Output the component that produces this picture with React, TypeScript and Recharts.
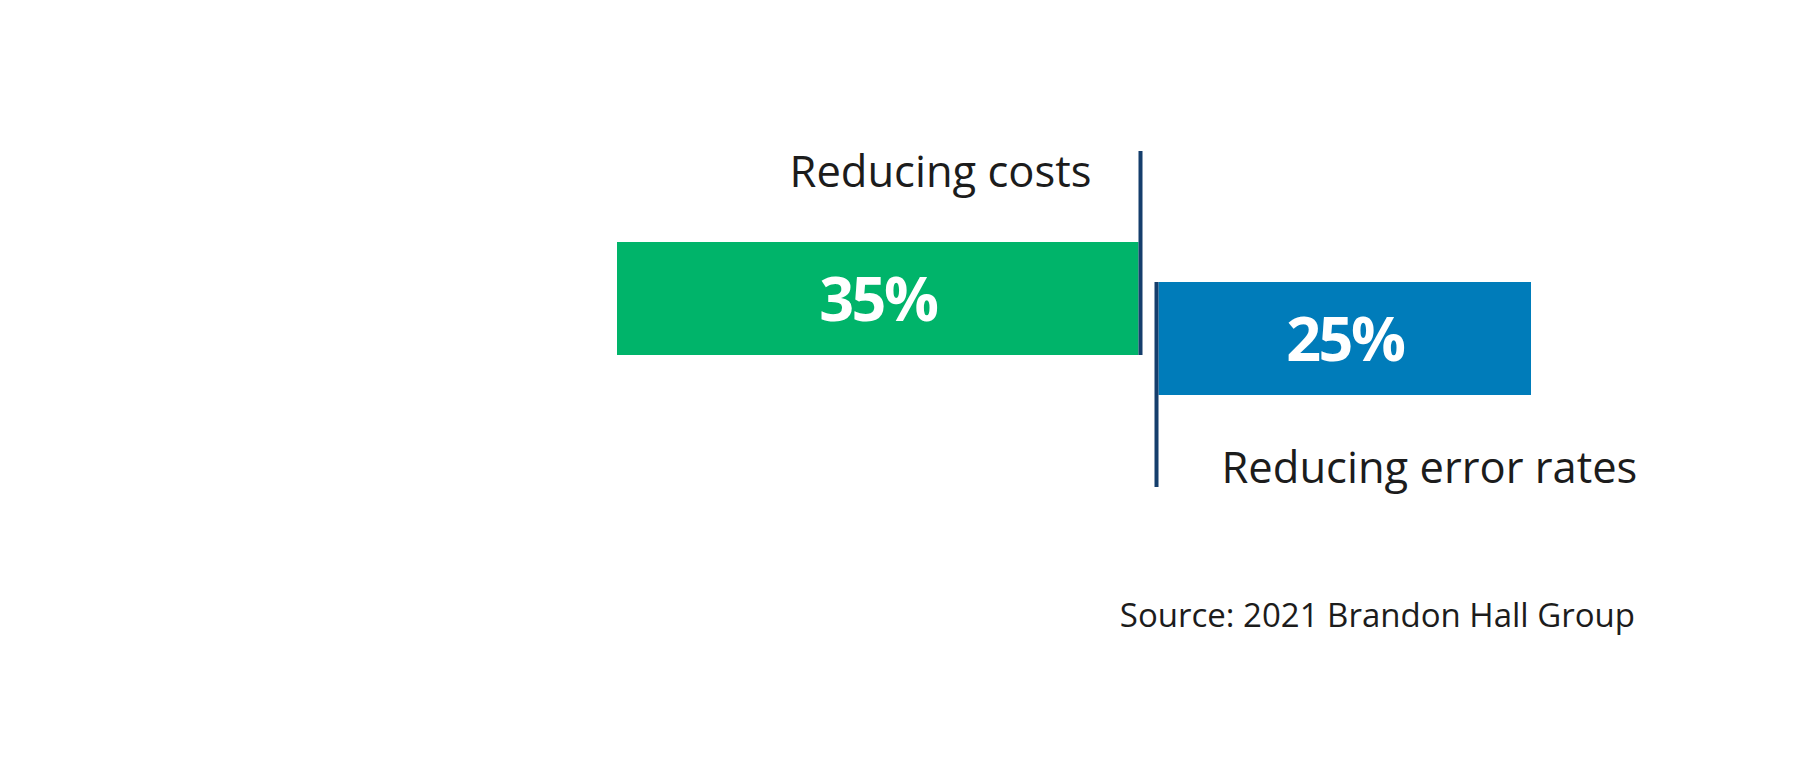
import { BarChart, Bar, XAxis, YAxis, Cell } from "recharts";

// categories and their shares (negative = drawn to the left of the divider)
const categories = ["Reducing costs", "Reducing error rates"];
const shares = [-35, 25];
const barColors = ["#00B46A", "#007CBA"];
const xDomain = [-40, 40];
const sourceNote = "Source: 2021 Brandon Hall Group";

const data = categories.map((label, i) => ({ label, share: shares[i] }));

const W = 1814;
const H = 782;
const BAR_H = 113; // bars are taller than their band, so they overlap
const STEM = "#153E6C";
const GAP = 10; // half the space between the two stems
const TEXT = "#1c1c1c";
const FONT = "'Open Sans', 'Noto Sans', sans-serif";

// eslint-disable-next-line @typescript-eslint/no-explicit-any
function DividedBar(props: any) {
  const { x, y, width, height, payload, fill } = props;
  const left = Math.min(x, x + width);
  const w = Math.abs(width);
  const goesLeft = payload.share < 0;
  const bx = left + (goesLeft ? -GAP : GAP);
  const stemX = goesLeft ? bx + w + 2 : bx - 2;
  const cx = bx + w / 2;
  const cy = y + height / 2;
  const top = cy - BAR_H / 2;
  const bottom = cy + BAR_H / 2;

  return (
    <g>
      <rect x={bx} y={top} width={w} height={BAR_H} fill={fill} />
      <line
        x1={stemX}
        x2={stemX}
        y1={goesLeft ? top - 91 : top}
        y2={goesLeft ? bottom : bottom + 92}
        stroke={STEM}
        strokeWidth={4}
      />
      <text
        x={cx}
        y={cy + 22}
        textAnchor="middle"
        fill="#fff"
        fontFamily={FONT}
        fontWeight={700}
        fontSize={61}
        letterSpacing={-2.5}
      >
        {Math.abs(payload.share)}%
      </text>
      <text
        x={goesLeft ? stemX - 49 : stemX + 65}
        y={goesLeft ? top - 55 : bottom + 88}
        textAnchor={goesLeft ? "end" : "start"}
        fill={TEXT}
        fontFamily={FONT}
        fontSize={43.5}
      >
        {payload.label}
      </text>
    </g>
  );
}

export default function App() {
  return (
    <div
      style={{
        position: "fixed",
        left: 0,
        top: 0,
        width: W,
        height: H,
        background: "#fff",
      }}
    >
      <BarChart
        width={W}
        height={H}
        data={data}
        layout="vertical"
        margin={{ top: 278.5, bottom: 423.5, left: 552.5, right: 69.5 }}
      >
        <XAxis type="number" domain={xDomain} hide />
        <YAxis type="category" dataKey="label" hide />
        <Bar dataKey="share" shape={DividedBar} isAnimationActive={false}>
          {data.map((d, i) => (
            <Cell key={d.label} fill={barColors[i]} />
          ))}
        </Bar>
      </BarChart>
      <svg
        width={W}
        height={H}
        style={{ position: "absolute", left: 0, top: 0, pointerEvents: "none" }}
      >
        <text
          x={1635}
          y={627}
          textAnchor="end"
          fill={TEXT}
          fontFamily={FONT}
          fontSize={33}
        >
          {sourceNote}
        </text>
      </svg>
    </div>
  );
}
